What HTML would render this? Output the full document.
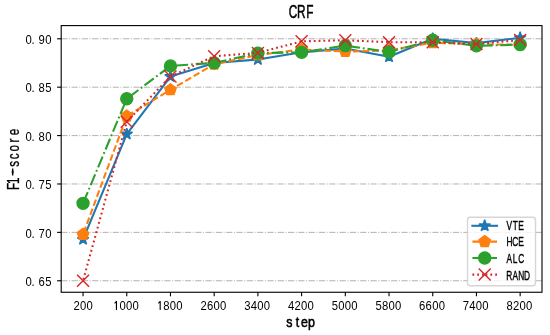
<!DOCTYPE html>
<html><head><meta charset="utf-8"><title>CRF</title><style>
html,body{margin:0;padding:0;background:#fff;}
body{width:550px;height:335px;overflow:hidden;}
svg{display:block;}
text{font-family:"Liberation Sans", Arial, sans-serif;fill:#000;}
.tk{font-size:12.70px;}
.one{font-family:NanumGothic, "Liberation Sans", sans-serif;font-weight:bold;font-size:11.9px;}
.title{font-size:18.20px;stroke:#000;stroke-width:0.5px;}
.lab{font-size:14.60px;stroke:#000;stroke-width:0.55px;}
.lg{font-size:12.60px;stroke:#000;stroke-width:0.4px;}
.ylab{font-size:15.60px;stroke:#000;stroke-width:0.3px;}
</style></head><body>
<svg width="550" height="335" viewBox="0 0 550 335">
<rect width="550" height="335" fill="#fff"/>
<line x1="61.20" y1="280.76" x2="542.00" y2="280.76" stroke="#b0b0b0" stroke-width="0.97" stroke-dasharray="6.22,1.56,0.97,1.56"/>
<line x1="61.20" y1="232.37" x2="542.00" y2="232.37" stroke="#b0b0b0" stroke-width="0.97" stroke-dasharray="6.22,1.56,0.97,1.56"/>
<line x1="61.20" y1="183.98" x2="542.00" y2="183.98" stroke="#b0b0b0" stroke-width="0.97" stroke-dasharray="6.22,1.56,0.97,1.56"/>
<line x1="61.20" y1="135.58" x2="542.00" y2="135.58" stroke="#b0b0b0" stroke-width="0.97" stroke-dasharray="6.22,1.56,0.97,1.56"/>
<line x1="61.20" y1="87.19" x2="542.00" y2="87.19" stroke="#b0b0b0" stroke-width="0.97" stroke-dasharray="6.22,1.56,0.97,1.56"/>
<line x1="61.20" y1="38.79" x2="542.00" y2="38.79" stroke="#b0b0b0" stroke-width="0.97" stroke-dasharray="6.22,1.56,0.97,1.56"/>
<defs><clipPath id="ax"><rect x="61.20" y="25.60" width="480.80" height="266.65"/></clipPath></defs>
<g clip-path="url(#ax)">
<path d="M83.05 239.44 L126.76 134.13 L170.47 76.54 L214.18 62.99 L257.89 59.50 L301.60 52.34 L345.31 48.47 L389.02 56.79 L432.73 38.79 L476.44 43.15 L520.15 37.82" fill="none" stroke="#1f77b4" stroke-width="2.08" stroke-linejoin="round" stroke-linecap="square"/>
<polygon points="83.05,233.44 81.71,237.58 77.35,237.58 80.87,240.14 79.53,244.29 83.05,241.73 86.58,244.29 85.23,240.14 88.76,237.58 84.40,237.58" fill="#1f77b4" stroke="#1f77b4" stroke-width="1.39" stroke-linejoin="bevel"/>
<polygon points="126.76,128.13 125.42,132.27 121.06,132.27 124.58,134.84 123.24,138.98 126.76,136.42 130.29,138.98 128.94,134.84 132.47,132.27 128.11,132.27" fill="#1f77b4" stroke="#1f77b4" stroke-width="1.39" stroke-linejoin="bevel"/>
<polygon points="170.47,70.54 169.13,74.68 164.77,74.68 168.29,77.25 166.95,81.39 170.47,78.83 174.00,81.39 172.65,77.25 176.18,74.68 171.82,74.68" fill="#1f77b4" stroke="#1f77b4" stroke-width="1.39" stroke-linejoin="bevel"/>
<polygon points="214.18,56.99 212.83,61.13 208.48,61.13 212.00,63.70 210.66,67.84 214.18,65.28 217.71,67.84 216.36,63.70 219.89,61.13 215.53,61.13" fill="#1f77b4" stroke="#1f77b4" stroke-width="1.39" stroke-linejoin="bevel"/>
<polygon points="257.89,53.50 256.54,57.65 252.18,57.65 255.71,60.21 254.36,64.36 257.89,61.79 261.42,64.36 260.07,60.21 263.60,57.65 259.24,57.65" fill="#1f77b4" stroke="#1f77b4" stroke-width="1.39" stroke-linejoin="bevel"/>
<polygon points="301.60,46.34 300.25,50.49 295.89,50.49 299.42,53.05 298.07,57.19 301.60,54.63 305.13,57.19 303.78,53.05 307.31,50.49 302.95,50.49" fill="#1f77b4" stroke="#1f77b4" stroke-width="1.39" stroke-linejoin="bevel"/>
<polygon points="345.31,42.47 343.96,46.61 339.60,46.61 343.13,49.18 341.78,53.32 345.31,50.76 348.84,53.32 347.49,49.18 351.02,46.61 346.66,46.61" fill="#1f77b4" stroke="#1f77b4" stroke-width="1.39" stroke-linejoin="bevel"/>
<polygon points="389.02,50.79 387.67,54.94 383.31,54.94 386.84,57.50 385.49,61.65 389.02,59.08 392.54,61.65 391.20,57.50 394.72,54.94 390.37,54.94" fill="#1f77b4" stroke="#1f77b4" stroke-width="1.39" stroke-linejoin="bevel"/>
<polygon points="432.73,32.79 431.38,36.94 427.02,36.94 430.55,39.50 429.20,43.64 432.73,41.08 436.25,43.64 434.91,39.50 438.43,36.94 434.07,36.94" fill="#1f77b4" stroke="#1f77b4" stroke-width="1.39" stroke-linejoin="bevel"/>
<polygon points="476.44,37.15 475.09,41.29 470.73,41.29 474.26,43.85 472.91,48.00 476.44,45.44 479.96,48.00 478.62,43.85 482.14,41.29 477.78,41.29" fill="#1f77b4" stroke="#1f77b4" stroke-width="1.39" stroke-linejoin="bevel"/>
<polygon points="520.15,31.82 518.80,35.97 514.44,35.97 517.97,38.53 516.62,42.68 520.15,40.11 523.67,42.68 522.33,38.53 525.85,35.97 521.49,35.97" fill="#1f77b4" stroke="#1f77b4" stroke-width="1.39" stroke-linejoin="bevel"/>
<path d="M83.05 234.40 L126.76 116.13 L170.47 89.80 L214.18 64.15 L257.89 55.05 L301.60 49.44 L345.31 51.57 L389.02 50.40 L432.73 42.66 L476.44 44.31 L520.15 44.79" fill="none" stroke="#ff7f0e" stroke-width="2.08" stroke-linejoin="round" stroke-linecap="butt" stroke-dasharray="6.73,2.91" stroke-dashoffset="8.10"/>
<polygon points="83.05,228.40 77.35,232.55 79.53,239.26 86.58,239.26 88.76,232.55" fill="#ff7f0e" stroke="#ff7f0e" stroke-width="1.39"/>
<polygon points="126.76,110.13 121.06,114.27 123.24,120.98 130.29,120.98 132.47,114.27" fill="#ff7f0e" stroke="#ff7f0e" stroke-width="1.39"/>
<polygon points="170.47,83.80 164.77,87.94 166.95,94.65 174.00,94.65 176.18,87.94" fill="#ff7f0e" stroke="#ff7f0e" stroke-width="1.39"/>
<polygon points="214.18,58.15 208.48,62.29 210.66,69.00 217.71,69.00 219.89,62.29" fill="#ff7f0e" stroke="#ff7f0e" stroke-width="1.39"/>
<polygon points="257.89,49.05 252.18,53.20 254.36,59.90 261.42,59.90 263.60,53.20" fill="#ff7f0e" stroke="#ff7f0e" stroke-width="1.39"/>
<polygon points="301.60,43.44 295.89,47.58 298.07,54.29 305.13,54.29 307.31,47.58" fill="#ff7f0e" stroke="#ff7f0e" stroke-width="1.39"/>
<polygon points="345.31,45.57 339.60,49.71 341.78,56.42 348.84,56.42 351.02,49.71" fill="#ff7f0e" stroke="#ff7f0e" stroke-width="1.39"/>
<polygon points="389.02,44.40 383.31,48.55 385.49,55.26 392.54,55.26 394.72,48.55" fill="#ff7f0e" stroke="#ff7f0e" stroke-width="1.39"/>
<polygon points="432.73,36.66 427.02,40.81 429.20,47.52 436.25,47.52 438.43,40.81" fill="#ff7f0e" stroke="#ff7f0e" stroke-width="1.39"/>
<polygon points="476.44,38.31 470.73,42.45 472.91,49.16 479.96,49.16 482.14,42.45" fill="#ff7f0e" stroke="#ff7f0e" stroke-width="1.39"/>
<polygon points="520.15,38.79 514.44,42.94 516.62,49.65 523.67,49.65 525.85,42.94" fill="#ff7f0e" stroke="#ff7f0e" stroke-width="1.39"/>
<path d="M83.05 203.33 L126.76 98.80 L170.47 65.89 L214.18 62.89 L257.89 53.11 L301.60 52.34 L345.31 45.66 L389.02 51.95 L432.73 40.24 L476.44 45.86 L520.15 44.60" fill="none" stroke="#2ca02c" stroke-width="2.08" stroke-linejoin="round" stroke-linecap="butt" stroke-dasharray="11.65,2.91,1.82,2.91" stroke-dashoffset="18.82"/>
<circle cx="83.05" cy="203.33" r="6.00" fill="#2ca02c" stroke="#2ca02c" stroke-width="1.39"/>
<circle cx="126.76" cy="98.80" r="6.00" fill="#2ca02c" stroke="#2ca02c" stroke-width="1.39"/>
<circle cx="170.47" cy="65.89" r="6.00" fill="#2ca02c" stroke="#2ca02c" stroke-width="1.39"/>
<circle cx="214.18" cy="62.89" r="6.00" fill="#2ca02c" stroke="#2ca02c" stroke-width="1.39"/>
<circle cx="257.89" cy="53.11" r="6.00" fill="#2ca02c" stroke="#2ca02c" stroke-width="1.39"/>
<circle cx="301.60" cy="52.34" r="6.00" fill="#2ca02c" stroke="#2ca02c" stroke-width="1.39"/>
<circle cx="345.31" cy="45.66" r="6.00" fill="#2ca02c" stroke="#2ca02c" stroke-width="1.39"/>
<circle cx="389.02" cy="51.95" r="6.00" fill="#2ca02c" stroke="#2ca02c" stroke-width="1.39"/>
<circle cx="432.73" cy="40.24" r="6.00" fill="#2ca02c" stroke="#2ca02c" stroke-width="1.39"/>
<circle cx="476.44" cy="45.86" r="6.00" fill="#2ca02c" stroke="#2ca02c" stroke-width="1.39"/>
<circle cx="520.15" cy="44.60" r="6.00" fill="#2ca02c" stroke="#2ca02c" stroke-width="1.39"/>
<path d="M83.05 280.76 L126.76 121.74 L170.47 76.54 L214.18 56.21 L257.89 52.92 L301.60 41.31 L345.31 40.24 L389.02 42.18 L432.73 42.27 L476.44 44.02 L520.15 40.05" fill="none" stroke="#d62728" stroke-width="2.08" stroke-linejoin="round" stroke-linecap="butt" stroke-dasharray="1.82,3.00" stroke-dashoffset="3.55"/>
<path d="M77.05 274.76L89.05 286.76M77.05 286.76L89.05 274.76" stroke="#d62728" stroke-width="1.39" fill="none"/>
<path d="M120.76 115.74L132.76 127.74M120.76 127.74L132.76 115.74" stroke="#d62728" stroke-width="1.39" fill="none"/>
<path d="M164.47 70.54L176.47 82.54M164.47 82.54L176.47 70.54" stroke="#d62728" stroke-width="1.39" fill="none"/>
<path d="M208.18 50.21L220.18 62.21M208.18 62.21L220.18 50.21" stroke="#d62728" stroke-width="1.39" fill="none"/>
<path d="M251.89 46.92L263.89 58.92M251.89 58.92L263.89 46.92" stroke="#d62728" stroke-width="1.39" fill="none"/>
<path d="M295.60 35.31L307.60 47.31M295.60 47.31L307.60 35.31" stroke="#d62728" stroke-width="1.39" fill="none"/>
<path d="M339.31 34.24L351.31 46.24M339.31 46.24L351.31 34.24" stroke="#d62728" stroke-width="1.39" fill="none"/>
<path d="M383.02 36.18L395.02 48.18M383.02 48.18L395.02 36.18" stroke="#d62728" stroke-width="1.39" fill="none"/>
<path d="M426.73 36.27L438.73 48.27M426.73 48.27L438.73 36.27" stroke="#d62728" stroke-width="1.39" fill="none"/>
<path d="M470.44 38.02L482.44 50.02M470.44 50.02L482.44 38.02" stroke="#d62728" stroke-width="1.39" fill="none"/>
<path d="M514.15 34.05L526.15 46.05M514.15 46.05L526.15 34.05" stroke="#d62728" stroke-width="1.39" fill="none"/>
</g>
<rect x="61.20" y="25.60" width="480.80" height="266.65" fill="none" stroke="#000" stroke-width="1.11"/>
<line x1="83.05" y1="292.25" x2="83.05" y2="296.35" stroke="#000" stroke-width="1.11"/>
<text class="tk" x="82.48 89.79 97.09" y="309.80" transform="scale(0.8900 1)">200</text>
<line x1="126.76" y1="292.25" x2="126.76" y2="296.35" stroke="#000" stroke-width="1.11"/>
<text class="tk" x="127.00 134.35 141.65 148.96" y="309.80" transform="scale(0.8900 1)"><tspan class="one">1</tspan>000</text>
<line x1="170.47" y1="292.25" x2="170.47" y2="296.35" stroke="#000" stroke-width="1.11"/>
<text class="tk" x="176.11 183.46 190.76 198.07" y="309.80" transform="scale(0.8900 1)"><tspan class="one">1</tspan>800</text>
<line x1="214.18" y1="292.25" x2="214.18" y2="296.35" stroke="#000" stroke-width="1.11"/>
<text class="tk" x="225.38 232.64 239.99 247.29" y="309.80" transform="scale(0.8900 1)">2600</text>
<line x1="257.89" y1="292.25" x2="257.89" y2="296.35" stroke="#000" stroke-width="1.11"/>
<text class="tk" x="274.53 281.84 289.10 296.40" y="309.80" transform="scale(0.8900 1)">3400</text>
<line x1="301.60" y1="292.25" x2="301.60" y2="296.35" stroke="#000" stroke-width="1.11"/>
<text class="tk" x="323.64 330.91 338.21 345.51" y="309.80" transform="scale(0.8900 1)">4200</text>
<line x1="345.31" y1="292.25" x2="345.31" y2="296.35" stroke="#000" stroke-width="1.11"/>
<text class="tk" x="372.73 380.02 387.32 394.62" y="309.80" transform="scale(0.8900 1)">5000</text>
<line x1="389.02" y1="292.25" x2="389.02" y2="296.35" stroke="#000" stroke-width="1.11"/>
<text class="tk" x="421.84 429.13 436.43 443.74" y="309.80" transform="scale(0.8900 1)">5800</text>
<line x1="432.73" y1="292.25" x2="432.73" y2="296.35" stroke="#000" stroke-width="1.11"/>
<text class="tk" x="470.89 478.20 485.54 492.85" y="309.80" transform="scale(0.8900 1)">6600</text>
<line x1="476.44" y1="292.25" x2="476.44" y2="296.35" stroke="#000" stroke-width="1.11"/>
<text class="tk" x="520.04 527.39 534.66 541.96" y="309.80" transform="scale(0.8900 1)">7400</text>
<line x1="520.15" y1="292.25" x2="520.15" y2="296.35" stroke="#000" stroke-width="1.11"/>
<text class="tk" x="569.16 576.46 583.77 591.07" y="309.80" transform="scale(0.8900 1)">8200</text>
<line x1="57.10" y1="280.76" x2="61.20" y2="280.76" stroke="#000" stroke-width="1.11"/>
<text class="tk" x="28.72 35.31 43.28 50.92" y="286.06" transform="scale(0.8900 1)">0.65</text>
<line x1="57.10" y1="232.37" x2="61.20" y2="232.37" stroke="#000" stroke-width="1.11"/>
<text class="tk" x="28.72 35.31 43.32 50.91" y="237.67" transform="scale(0.8900 1)">0.70</text>
<line x1="57.10" y1="183.98" x2="61.20" y2="183.98" stroke="#000" stroke-width="1.11"/>
<text class="tk" x="28.72 35.31 43.32 50.92" y="189.28" transform="scale(0.8900 1)">0.75</text>
<line x1="57.10" y1="135.58" x2="61.20" y2="135.58" stroke="#000" stroke-width="1.11"/>
<text class="tk" x="28.72 35.31 43.32 50.91" y="140.88" transform="scale(0.8900 1)">0.80</text>
<line x1="57.10" y1="87.19" x2="61.20" y2="87.19" stroke="#000" stroke-width="1.11"/>
<text class="tk" x="28.72 35.31 43.32 50.92" y="92.49" transform="scale(0.8900 1)">0.85</text>
<line x1="57.10" y1="38.79" x2="61.20" y2="38.79" stroke="#000" stroke-width="1.11"/>
<text class="tk" x="28.72 35.31 43.33 50.91" y="44.09" transform="scale(0.8900 1)">0.90</text>
<text class="title" x="444.08 457.10 471.29" y="18.10" transform="scale(0.6500 1)">CRF</text>
<text class="lab" x="336.88 347.80 354.07 362.48" y="327.00" transform="scale(0.8500 1)">step</text>
<g transform="translate(19.00 0) rotate(-90)"><text class="ylab" x="-253.49 -245.35 -232.00 -222.24 -212.29 -201.94 -190.05 -180.19" y="0.00" transform="scale(0.7500 1)" dy="0.00 0.00 -2.30 2.30 0.00 0.00 0.00 0.00">F1-score</text></g>
<line x1="12.70" y1="175.60" x2="12.70" y2="168.50" stroke="#000" stroke-width="1.30"/>
<rect x="467.50" y="217.20" width="68.00" height="68.50" rx="2.8" ry="2.8" fill="#fff" fill-opacity="0.8" stroke="#cccccc" stroke-opacity="0.8" stroke-width="1.39"/>
<path d="M472.40 225.80 L484.70 225.80" fill="none" stroke="#1f77b4" stroke-width="2.08" stroke-linejoin="round" stroke-linecap="square"/>
<path d="M497.00 225.80 L484.70 225.80" fill="none" stroke="#1f77b4" stroke-width="2.08" stroke-linejoin="round" stroke-linecap="square"/>
<polygon points="484.70,219.80 483.35,223.95 478.99,223.95 482.52,226.51 481.17,230.65 484.70,228.09 488.23,230.65 486.88,226.51 490.41,223.95 486.05,223.95" fill="#1f77b4" stroke="#1f77b4" stroke-width="1.39" stroke-linejoin="bevel"/>
<text class="lg" x="767.62 776.99 785.40" y="229.70" transform="scale(0.6600 1)">VTE</text>
<path d="M472.40 241.60 L484.70 241.60" fill="none" stroke="#ff7f0e" stroke-width="2.08" stroke-linejoin="round" stroke-linecap="butt" stroke-dasharray="6.73,2.91"/>
<path d="M497.00 241.60 L484.70 241.60" fill="none" stroke="#ff7f0e" stroke-width="2.08" stroke-linejoin="round" stroke-linecap="butt" stroke-dasharray="6.73,2.91"/>
<polygon points="484.70,235.60 478.99,239.75 481.17,246.45 488.23,246.45 490.41,239.75" fill="#ff7f0e" stroke="#ff7f0e" stroke-width="1.39"/>
<text class="lg" x="767.27 776.20 785.40" y="245.80" transform="scale(0.6600 1)">HCE</text>
<path d="M472.40 258.00 L484.70 258.00" fill="none" stroke="#2ca02c" stroke-width="2.08" stroke-linejoin="round" stroke-linecap="butt" stroke-dasharray="11.65,2.91,1.82,2.91"/>
<path d="M497.00 258.00 L484.70 258.00" fill="none" stroke="#2ca02c" stroke-width="2.08" stroke-linejoin="round" stroke-linecap="butt" stroke-dasharray="11.65,2.91,1.82,2.91"/>
<circle cx="484.70" cy="258.00" r="6.00" fill="#2ca02c" stroke="#2ca02c" stroke-width="1.39"/>
<text class="lg" x="767.62 777.02 785.22" y="263.20" transform="scale(0.6600 1)">ALC</text>
<path d="M472.40 274.60 L484.70 274.60" fill="none" stroke="#d62728" stroke-width="2.08" stroke-linejoin="round" stroke-linecap="butt" stroke-dasharray="1.82,3.00"/>
<path d="M497.00 274.60 L484.70 274.60" fill="none" stroke="#d62728" stroke-width="2.08" stroke-linejoin="round" stroke-linecap="butt" stroke-dasharray="1.82,3.00"/>
<path d="M478.70 268.60L490.70 280.60M478.70 280.60L490.70 268.60" stroke="#d62728" stroke-width="1.39" fill="none"/>
<text class="lg" x="767.04 776.63 785.30 794.10" y="279.60" transform="scale(0.6600 1)">RAND</text>
</svg>
</body></html>
